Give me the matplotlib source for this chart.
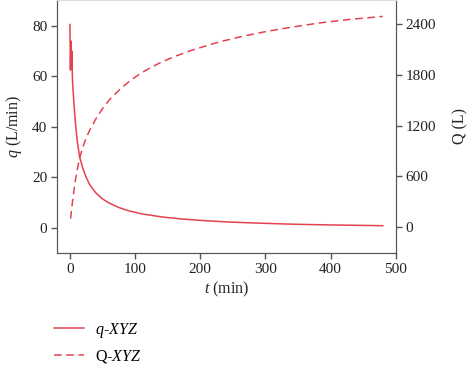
import matplotlib
matplotlib.use("Agg")
import matplotlib.pyplot as plt

plt.rcParams['font.family'] = ['Liberation Serif', 'DejaVu Serif']
plt.rcParams['mathtext.fontset'] = 'custom'
plt.rcParams['mathtext.rm'] = 'Liberation Serif'
plt.rcParams['mathtext.it'] = 'Liberation Serif:italic'

# flow rate q (L/min)
t_q = [0, 0.8, 1.5, 2.1, 2.8, 4, 6, 8, 10, 12, 15, 20, 25, 30, 40, 50, 60,
       75, 90, 110, 140, 170, 200, 240, 280, 340, 400, 480]
q_xyz = [80.5, 62.5, 74, 63, 70, 58, 50, 43, 37.5, 33, 28, 23.5, 20, 17.3,
         13.8, 11.5, 9.9, 8.1, 6.8, 5.6, 4.4, 3.6, 3.0, 2.4, 2.0, 1.5, 1.2, 0.9]

# cumulative volume Q (L)
t_Q = [1, 2, 4, 6, 8, 11, 15, 20, 25, 31, 40, 50, 60, 77, 90, 107, 125, 138,
       160, 189, 210, 230, 261, 300, 333, 383, 430, 480]
Q_xyz = [100, 170, 300, 420, 530, 670, 820, 950, 1055, 1155, 1280, 1400, 1500,
         1630, 1715, 1810, 1890, 1940, 2015, 2095, 2145, 2190, 2248, 2310,
         2354, 2413, 2455, 2490]

red = '#e5424d'
spine = '#555555'

fig = plt.figure(figsize=(4.74, 3.68), dpi=100)
ax = fig.add_axes([0.120, 0.3125, 0.715, 0.6875])
ax2 = ax.twinx()

l1, = ax.plot(t_q, q_xyz, color=red, lw=1.1, label=r'$q$-$XYZ$')
l2, = ax2.plot(t_Q, Q_xyz, color=red, lw=1.1, ls=(0, (5, 3)), label=r'Q-$XYZ$')

ax.set_xlim(-20, 500)
ax.set_ylim(-9.9, 90.2)
ax2.set_ylim(-307, 2684)
ax.set_xticks([0, 100, 200, 300, 400, 500])
ax.set_yticks([0, 20, 40, 60, 80])
ax2.set_yticks([0, 600, 1200, 1800, 2400])

for a in (ax, ax2):
    for s in a.spines.values():
        s.set_color(spine)
    a.spines['top'].set_color('#dddddd')
    a.tick_params(direction='out', length=4, width=1, color=spine,
                  labelsize=11, labelcolor='#222222', pad=3)

ax.set_xlabel(r'$t$ (min)', fontsize=11.5, color='#222222', labelpad=3)
ax.set_ylabel(r'$q$ (L/min)', fontsize=11.5, color='#222222', labelpad=6)
ax2.set_ylabel('Q (L)', fontsize=11.5, color='#222222', labelpad=12)

fig.legend(handles=[l1, l2], loc='upper left', bbox_to_anchor=(0.113, 0.128),
           frameon=False, fontsize=11.5, borderpad=0, borderaxespad=0,
           handlelength=1.9, handletextpad=0.7, labelspacing=0.5)

fig.savefig('out.png', dpi=100)
